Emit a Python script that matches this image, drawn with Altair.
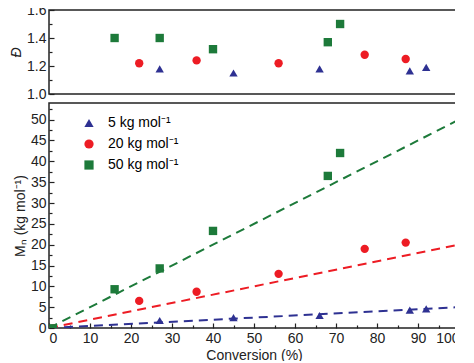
import altair as alt
import pandas as pd

series = ["5 kg mol⁻¹", "20 kg mol⁻¹", "50 kg mol⁻¹"]
colors = ["#2E3192", "#ED1C24", "#1D7A3A"]
shapes = ["triangle-up", "circle", "square"]

conv_5 = [27, 45, 66, 88, 92]
disp_5 = [1.18, 1.15, 1.18, 1.165, 1.19]
mn_5 = [1.8, 2.5, 3.0, 4.3, 4.6]

conv_20 = [22, 36, 56, 77, 87]
disp_20 = [1.22, 1.24, 1.22, 1.28, 1.25]
mn_20 = [6.5, 8.7, 13.0, 19.0, 20.5]

conv_50 = [16, 27, 40, 68, 71]
disp_50 = [1.40, 1.40, 1.32, 1.37, 1.50]
mn_50 = [9.3, 14.3, 23.3, 36.5, 42.0]

origin_conv = [1, 1]
origin_mn = [0, 0]
origin_series = ["20 kg mol⁻¹", "50 kg mol⁻¹"]

theory_conv = [0, 100]
theory_mn = {"5 kg mol⁻¹": [0, 5], "20 kg mol⁻¹": [0, 20], "50 kg mol⁻¹": [0, 50]}

x_major = list(range(0, 101, 10))
x_minor = list(range(5, 100, 10))
mn_major = list(range(0, 51, 5))
mn_minor = [2.5 + 5 * i for i in range(11)]
d_major = [1.0, 1.2, 1.4, 1.6]
d_minor = [1.1, 1.3, 1.5]

rows = []
for s, c, d, m in [(series[0], conv_5, disp_5, mn_5),
                   (series[1], conv_20, disp_20, mn_20),
                   (series[2], conv_50, disp_50, mn_50)]:
    for ci, di, mi in zip(c, d, m):
        rows.append({"series": s, "conv": ci, "disp": di, "mn": mi})
pts = pd.DataFrame(rows)
orig = pd.DataFrame({"series": origin_series, "conv": origin_conv, "mn": origin_mn})
lines = pd.DataFrame([{"series": s, "conv": x, "mn": y}
                      for s in series for x, y in zip(theory_conv, theory_mn[s])])

FONT = "Liberation Sans"
FS = 14
W = 410

color_scale = alt.Scale(domain=series, range=colors)
shape_scale = alt.Scale(domain=series, range=shapes)
xs = alt.Scale(domain=[0, 100])
ds = alt.Scale(domain=[1.0, 1.6])
ms = alt.Scale(domain=[0, 54])

def minor_axis(vals, orient):
    return alt.Axis(values=vals, labels=False, title=None, domain=False,
                    offset=-3, tickSize=3, orient=orient)

# ---- top panel (dispersity)
top_pts = alt.Chart(pts).mark_point(filled=True, size=70, opacity=1).encode(
    x=alt.X("conv:Q", scale=xs, axis=None),
    y=alt.Y("disp:Q", scale=ds,
            axis=alt.Axis(values=d_major, format=".1f", title="Đ",
                          titleFontStyle="italic", titleFontWeight="normal",
                          domain=False, offset=-5, tickSize=5, labelPadding=3,
                          titlePadding=3, orient="left")),
    color=alt.Color("series:N", scale=color_scale, legend=None),
    shape=alt.Shape("series:N", scale=shape_scale, legend=None),
)
top_minor = alt.Chart(pts).mark_point(opacity=0).encode(
    x=alt.X("conv:Q", scale=xs, axis=None),
    y=alt.Y("disp:Q", scale=ds, axis=minor_axis(d_minor, "left")),
)
top = alt.layer(top_pts, top_minor).resolve_axis(y="independent").properties(width=W, height=84)

# ---- bottom panel (Mn)
x_bot = alt.X("conv:Q", scale=xs,
              axis=alt.Axis(values=x_major, title="Conversion (%)",
                            titleFontWeight="normal", domain=False, offset=-5,
                            tickSize=5, labelPadding=3, titlePadding=3, orient="bottom"))
y_bot = alt.Y("mn:Q", scale=ms,
              axis=alt.Axis(values=mn_major, title="Mₙ (kg mol⁻¹)",
                            titleFontWeight="normal", domain=False, offset=-5,
                            tickSize=5, labelPadding=3, titlePadding=3, orient="left"))
x_none = alt.X("conv:Q", scale=xs, axis=None)
y_none = alt.Y("mn:Q", scale=ms, axis=None)

leg = alt.Legend(title=None, orient="none", legendX=33, legendY=13,
                 labelFontSize=FS, symbolSize=85, rowPadding=7, labelOffset=12,
                 labelFont=FONT, symbolStrokeWidth=0)

line_layer = alt.Chart(lines).mark_line(strokeDash=[9, 6], strokeWidth=2, clip=True).encode(
    x=x_none, y=y_none,
    color=alt.Color("series:N", scale=color_scale, legend=leg),
    detail="series:N",
)
orig_layer = alt.Chart(orig).mark_point(filled=True, size=60, opacity=1, clip=True).encode(
    x=x_none, y=y_none,
    color=alt.Color("series:N", scale=color_scale, legend=leg),
    shape=alt.Shape("series:N", scale=shape_scale, legend=leg),
)
pt_layer = alt.Chart(pts).mark_point(filled=True, size=70, opacity=1).encode(
    x=x_bot, y=y_bot,
    color=alt.Color("series:N", scale=color_scale, legend=leg),
    shape=alt.Shape("series:N", scale=shape_scale, legend=leg),
)
bot_minor = alt.Chart(lines).mark_point(opacity=0).encode(
    x=alt.X("conv:Q", scale=xs, axis=minor_axis(x_minor, "bottom")),
    y=alt.Y("mn:Q", scale=ms, axis=minor_axis(mn_minor, "left")),
)
bottom = alt.layer(line_layer, orig_layer, pt_layer, bot_minor).resolve_axis(
    x="independent", y="independent"
).properties(width=W, height=225)

chart = alt.vconcat(top, bottom, spacing=0).resolve_legend(
    color="independent", shape="independent"
).configure_view(stroke="#222222", strokeWidth=1.5).configure_axis(
    labelFont=FONT, titleFont=FONT, labelFontSize=FS, titleFontSize=FS,
    labelColor="#222222", titleColor="#222222", tickColor="#222222", tickWidth=1.2,
    grid=False
).properties(
    padding={"left": 0, "top": -6, "right": -8, "bottom": -2},
    autosize=alt.AutoSizeParams(type="pad")
)

chart.save("out.html", embed_options={"renderer": "svg", "actions": False})
